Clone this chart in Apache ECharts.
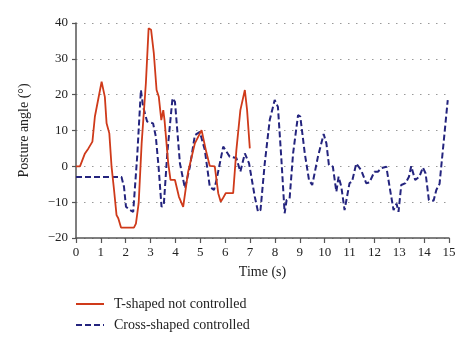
<!DOCTYPE html>
<html>
<head>
<meta charset="utf-8">
<script src="https://cdn.jsdelivr.net/npm/echarts@6/dist/echarts.min.js"></script>
<style>
  html, body { margin: 0; padding: 0; background: #fff; }
  #chart { width: 474px; height: 350px; }
</style>
</head>
<body>
<div id="chart"></div>
<script>
// T-shaped, not controlled (time s / angle deg)
var tRed = [0,0.16,0.36,0.5,0.55,0.66,0.76,1.03,1.16,1.23,1.34,1.43,1.53,1.63,1.7,1.81,2.33,2.41,2.52,2.64,
    2.81,2.92,3.02,3.13,3.24,3.33,3.43,3.51,3.56,3.71,3.8,3.98,4.14,4.31,4.51,4.78,5.05,5.22,5.38,5.58,
    5.72,5.82,5.9,6.02,6.1,6.32,6.45,6.61,6.79,6.88,6.99];
var vRed = [0,0,3.6,5,5,6.9,13.9,23.6,19.4,12,9.2,-0.1,-6.6,-13.6,-14.5,-17.1,-17.1,-16,-10.3,6.4,
    23.2,38.5,38.1,31.5,21.3,19.4,12.9,15.7,12.9,0.8,-3.8,-3.8,-8.5,-11.3,-1.5,6.4,10.1,4.6,0.1,0,
    -7.5,-9.9,-9,-7.5,-7.9,-7.5,4.6,15.7,21.3,15.7,5];
// cross-shaped, controlled
var tBlue = [0,1.83,1.93,2.01,2.17,2.3,2.46,2.61,2.7,2.86,3.1,3.21,3.32,3.44,3.53,3.67,3.88,3.98,4.18,4.38,
    4.58,4.78,4.98,5.05,5.18,5.38,5.55,5.65,5.92,6.18,6.45,6.61,6.79,6.96,7.19,7.32,7.42,7.59,7.79,7.99,
    8.12,8.26,8.39,8.47,8.59,8.73,8.93,9.02,9.2,9.37,9.5,9.73,9.96,10.07,10.17,10.33,10.47,10.56,10.67,10.8,
    10.87,11,11.1,11.27,11.47,11.67,11.8,12,12.14,12.28,12.48,12.61,12.77,12.89,12.97,13.08,13.25,13.39,13.48,13.64,
    13.81,13.95,14.06,14.19,14.38,14.49,14.62,14.78,14.95];
var vBlue = [-3,-3,-5.7,-11.3,-12.2,-12.7,2.7,21.3,16.6,12.5,12,8.3,-0.1,-11.3,-10.8,3.6,19,18,0.8,-6.1,
    -0.1,8.7,9.6,9.6,4.6,-5.7,-6.6,-3.8,5.5,2.7,2.3,-1.5,3.6,0.8,-8.5,-12.7,-12.2,0.8,12.9,18.5,
    16.6,1.9,-13.1,-9.4,-9,3.6,14.3,13.9,3.6,-3.8,-5.2,2.7,9,6.4,0.4,-0.1,-7.1,-2.9,-5.7,-12.2,
    -12.2,-4.7,-4.3,0.8,-1.1,-4.7,-4.5,-1.5,-1.5,-0.5,-0.1,-5.7,-12.2,-10.4,-12.7,-5.2,-4.7,-2.9,0,-3.8,
    -2.9,-0.3,-2,-9.4,-9.6,-6.6,-4.9,6.4,18.5];
var seriesNames = ['T-shaped not controlled', 'Cross-shaped controlled'];

function zipData(ts, vs){
    var out = [];
    for (var i = 0; i < ts.length; i++) {
        out.push([ts[i], vs[i]]);
    }
    return out;
}

var fontFam = '"Liberation Serif", "DejaVu Serif", serif';
var axisCol = '#555';
var chart = echarts.init(document.getElementById('chart'));
chart.setOption({
    animation: false,
    textStyle: {fontFamily: fontFam},
    grid: {left: 76, right: 25, top: 23, bottom: 112},
    legend: {
        orient: 'vertical',
        left: 70, top: 292,
        itemWidth: 28, itemHeight: 10, itemGap: 7,
        itemStyle: {opacity: 0},
        textStyle: {fontFamily: fontFam, fontSize: 14, color: '#222', padding: [0, 0, 0, 5]},
        data: seriesNames
    },
    xAxis: {
        type: 'value', min: 0, max: 15, interval: 1,
        name: 'Time (s)', nameLocation: 'middle', nameGap: 27,
        nameTextStyle: {fontFamily: fontFam, fontSize: 14, color: '#222'},
        axisLine: {onZero: false, lineStyle: {color: axisCol, width: 1.5}},
        axisTick: {length: 5, lineStyle: {color: axisCol, width: 1.2}},
        axisLabel: {fontFamily: fontFam, fontSize: 13, color: '#222', margin: 8},
        splitLine: {show: false}
    },
    yAxis: {
        type: 'value', min: -20, max: 40, interval: 10,
        name: 'Posture angle (°)', nameLocation: 'middle', nameGap: 45,
        nameTextStyle: {fontFamily: fontFam, fontSize: 14, color: '#222'},
        axisLine: {show: true, lineStyle: {color: axisCol, width: 1.5}},
        axisTick: {show: true, length: 4, lineStyle: {color: axisCol, width: 1.2}},
        axisLabel: {
            fontFamily: fontFam, fontSize: 13, color: '#222', margin: 8,
            formatter: function(v){ return String(v).replace('-', '\u2212'); }
        },
        splitLine: {show: true, lineStyle: {color: '#999', width: 1, type: [1.5, 6.5]}}
    },
    series: [
        {
            name: seriesNames[0], type: 'line', symbol: 'none', z: 3,
            data: zipData(tRed, vRed),
            lineStyle: {color: '#cf3a1a', width: 1.8},
            itemStyle: {color: '#cf3a1a'}
        },
        {
            name: seriesNames[1], type: 'line', symbol: 'none', z: 2,
            data: zipData(tBlue, vBlue),
            lineStyle: {color: '#24247e', width: 2, type: [6, 3]},
            itemStyle: {color: '#24247e'}
        }
    ]
});
</script>
</body>
</html>
